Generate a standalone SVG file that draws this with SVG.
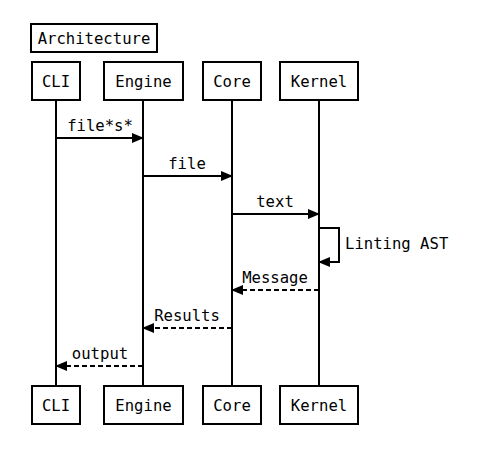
<svg xmlns="http://www.w3.org/2000/svg" width="480" height="462" viewBox="0 0 480 462">
<style>
text{font-family:"DejaVu Sans Mono","Liberation Mono",monospace;font-size:15.6px;fill:#000}
.box{fill:#fff;stroke:#000;stroke-width:2}
.life{stroke:#000;stroke-width:2}
.msg{stroke:#000;stroke-width:2;fill:none}
.ret{stroke:#000;stroke-width:2;fill:none;stroke-dasharray:5,3}
.c{text-anchor:middle}
</style>
<defs>
<marker id="ah" markerWidth="12" markerHeight="10" refX="11" refY="5" orient="auto" markerUnits="userSpaceOnUse">
<path d="M0,0 L12,5 L0,10 Z" fill="#000"/>
</marker>
</defs>
<rect width="480" height="462" fill="#fff"/>
<g id="title"><rect class="box" x="31" y="24" width="126" height="28"/><text x="94" y="44" class="c">Architecture</text></g>
<g id="lifelines">
<line class="life" x1="56" y1="100" x2="56" y2="386"/>
<line class="life" x1="143" y1="100" x2="143" y2="386"/>
<line class="life" x1="232" y1="100" x2="232" y2="386"/>
<line class="life" x1="319" y1="100" x2="319" y2="386"/>
</g>
<g id="CLI"><rect class="box" x="32" y="62" width="48" height="38"/><text x="56" y="87" class="c">CLI</text></g>
<g id="Engine"><rect class="box" x="104" y="62" width="79" height="38"/><text x="143.5" y="87" class="c">Engine</text></g>
<g id="Core"><rect class="box" x="203" y="62" width="58" height="38"/><text x="232" y="87" class="c">Core</text></g>
<g id="Kernel"><rect class="box" x="280" y="62" width="78" height="38"/><text x="319" y="87" class="c">Kernel</text></g>
<g id="CLI-bottom"><rect class="box" x="32" y="386" width="48" height="38"/><text x="56" y="411" class="c">CLI</text></g>
<g id="Engine-bottom"><rect class="box" x="104" y="386" width="79" height="38"/><text x="143.5" y="411" class="c">Engine</text></g>
<g id="Core-bottom"><rect class="box" x="203" y="386" width="58" height="38"/><text x="232" y="411" class="c">Core</text></g>
<g id="Kernel-bottom"><rect class="box" x="280" y="386" width="78" height="38"/><text x="319" y="411" class="c">Kernel</text></g>
<g id="connectors">
<line class="msg" x1="56" y1="138" x2="143" y2="138" marker-end="url(#ah)"/>
<text x="100" y="131" class="c">file*s*</text>
<line class="msg" x1="143" y1="176" x2="232" y2="176" marker-end="url(#ah)"/>
<text x="187" y="169" class="c">file</text>
<line class="msg" x1="232" y1="214" x2="319" y2="214" marker-end="url(#ah)"/>
<text x="275" y="207" class="c">text</text>
<polyline class="msg" points="319,228 339,228 339,262 319,262" marker-end="url(#ah)"/>
<text x="345" y="249">Linting AST</text>
<line class="ret" x1="319" y1="290" x2="232" y2="290" marker-end="url(#ah)"/>
<text x="275" y="283" class="c">Message</text>
<line class="ret" x1="232" y1="328" x2="143" y2="328" marker-end="url(#ah)"/>
<text x="187" y="321" class="c">Results</text>
<line class="ret" x1="143" y1="366" x2="56" y2="366" marker-end="url(#ah)"/>
<text x="100" y="359" class="c">output</text>
</g>
</svg>
